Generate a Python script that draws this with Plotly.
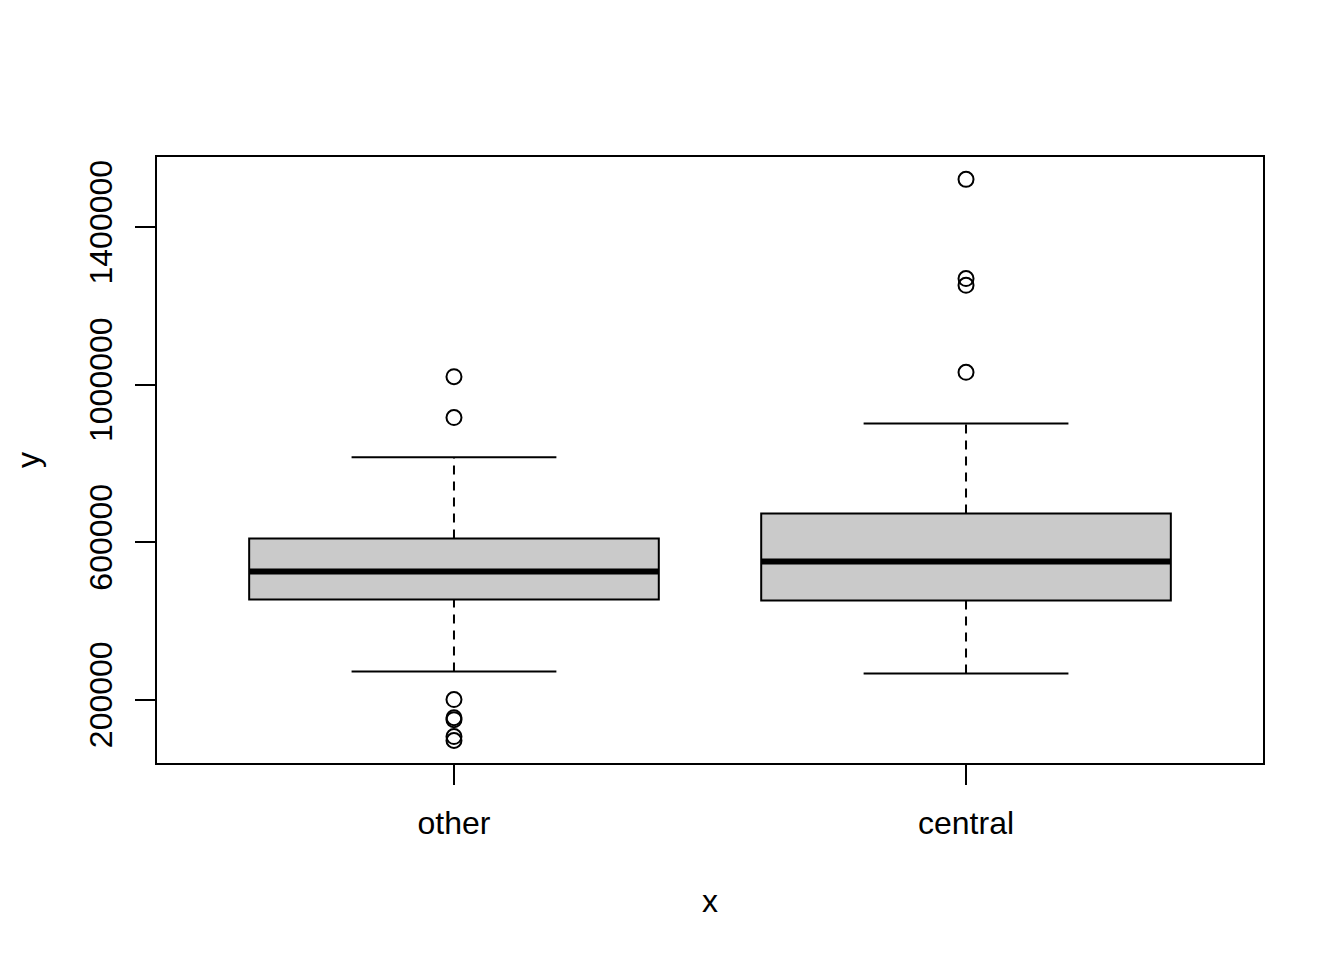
import plotly.graph_objects as go

# Datos (boxplot de R)
categorias = ["other", "central"]
posiciones = [1, 2]

q1 = [454000, 451500]
mediana = [525000, 550500]
q3 = [609000, 672500]
bigote_inf = [271000, 266000]
bigote_sup = [815000, 901000]

atipicos_other = [1020000, 916000, 200000, 154000, 149000, 106000, 96000]
atipicos_central = [1521000, 1269000, 1252000, 1031000]

y_ticks = [200000, 600000, 1000000, 1400000]

ANCHO_CAJA = 0.8
FUENTE = "Liberation Sans, Arial, Helvetica, sans-serif"
NEGRO = "#000000"

fig = go.Figure()

for i, cat in enumerate(categorias):
    c = posiciones[i]
    # bigotes discontinuos
    fig.add_trace(go.Scatter(
        x=[c, c], y=[q3[i], bigote_sup[i]], mode="lines",
        line=dict(color=NEGRO, width=2, dash="9px,7px"), hoverinfo="skip"))
    fig.add_trace(go.Scatter(
        x=[c, c], y=[bigote_inf[i], q1[i]], mode="lines",
        line=dict(color=NEGRO, width=2, dash="9px,7px"), hoverinfo="skip"))
    # topes de los bigotes
    for v in (bigote_inf[i], bigote_sup[i]):
        fig.add_trace(go.Scatter(
            x=[c - ANCHO_CAJA / 4, c + ANCHO_CAJA / 4], y=[v, v], mode="lines",
            line=dict(color=NEGRO, width=2), hoverinfo="skip"))
    # caja
    fig.add_trace(go.Box(
        x=[c], q1=[q1[i]], median=[mediana[i]], q3=[q3[i]],
        lowerfence=[q1[i]], upperfence=[q3[i]],
        width=ANCHO_CAJA, fillcolor="#CACACA",
        line=dict(color=NEGRO, width=2), boxpoints=False, name=cat))
    # mediana gruesa
    fig.add_trace(go.Scatter(
        x=[c - ANCHO_CAJA / 2, c + ANCHO_CAJA / 2], y=[mediana[i], mediana[i]],
        mode="lines", line=dict(color=NEGRO, width=6), hoverinfo="skip"))

# puntos atipicos
for c, vals in zip(posiciones, [atipicos_other, atipicos_central]):
    fig.add_trace(go.Scatter(
        x=[c] * len(vals), y=vals, mode="markers",
        marker=dict(symbol="circle-open", size=15, color=NEGRO,
                    line=dict(width=2, color=NEGRO))))

fig.update_layout(
    width=1344, height=960,
    margin=dict(l=157, r=81, t=157, b=197),
    paper_bgcolor="white", plot_bgcolor="white",
    showlegend=False,
    font=dict(family=FUENTE, size=32, color=NEGRO),
    xaxis=dict(
        range=[0.42, 2.58], tickvals=posiciones, ticktext=categorias,
        ticks="outside", ticklen=20, tickwidth=2, tickcolor=NEGRO,
        showline=True, linewidth=2, linecolor=NEGRO, mirror=True,
        showgrid=False, zeroline=False, ticklabelstandoff=11,
    ),
    yaxis=dict(
        range=[38860, 1577800], tickvals=y_ticks,
        ticktext=[str(v) for v in y_ticks], tickangle=-90,
        ticks="outside", ticklen=20, tickwidth=2, tickcolor=NEGRO,
        showline=True, linewidth=2, linecolor=NEGRO, mirror=True,
        showgrid=False, zeroline=False, ticklabelstandoff=10,
    ),
    annotations=[
        dict(text="x", xref="paper", yref="paper", x=0.5, y=-0.2277,
             showarrow=False, xanchor="center", yanchor="middle"),
        dict(text="y", xref="paper", yref="paper", x=-0.1166, y=0.5,
             showarrow=False, xanchor="center", yanchor="middle",
             textangle=-90),
    ],
)

# quitar el margen del body para que la figura empiece en (0, 0)
fig.write_html("out.html", config={"displayModeBar": False},
               post_script="document.body.style.margin='0';")
